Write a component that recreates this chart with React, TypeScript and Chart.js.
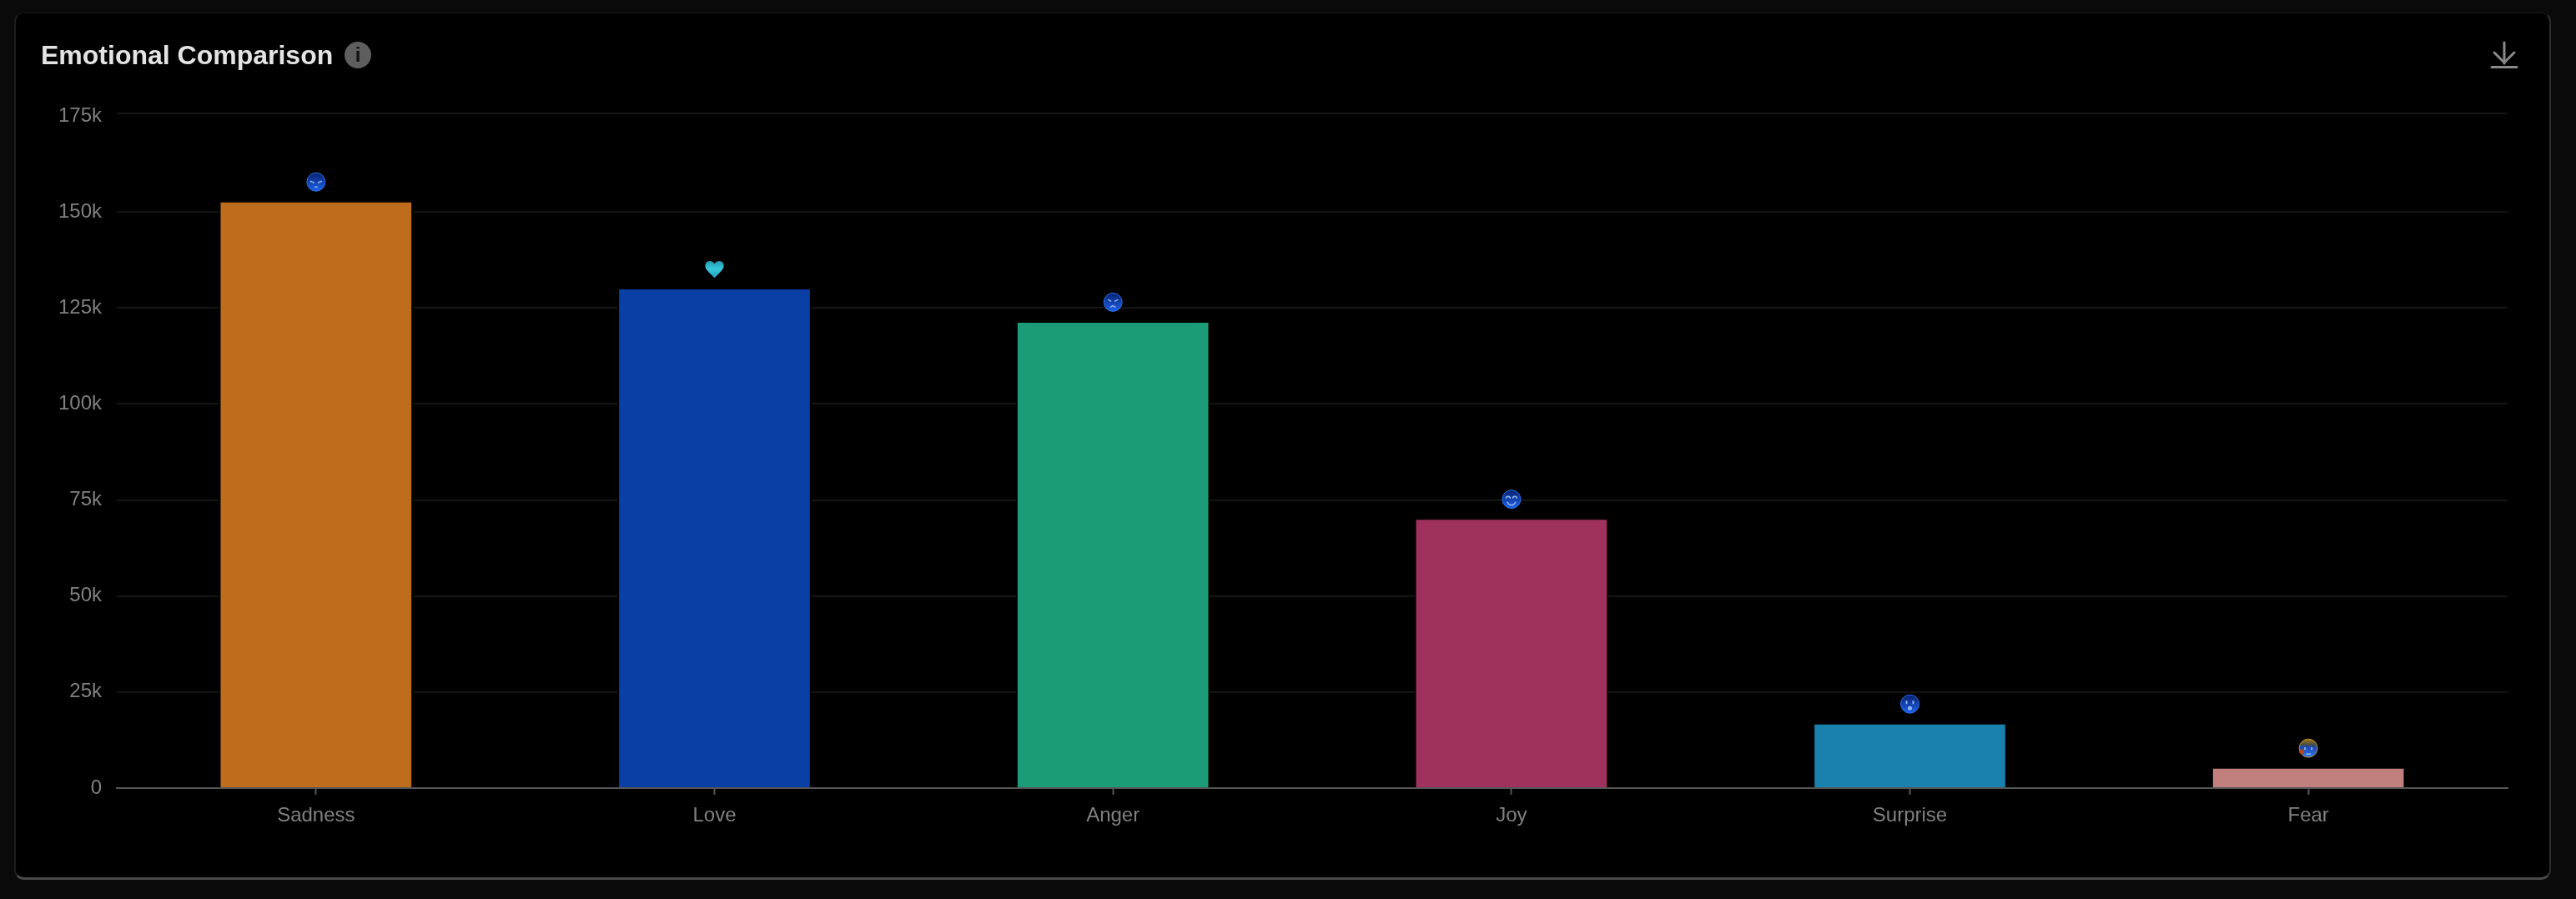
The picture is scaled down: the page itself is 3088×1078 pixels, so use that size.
import React, { useEffect, useRef } from "react";
import { Chart, registerables } from "chart.js";

Chart.register(...registerables);

const categories = ["Sadness", "Love", "Anger", "Joy", "Surprise", "Fear"];
const mentions = [152800, 130200, 121500, 70200, 16900, 5400];
const barColors = ["#BD6D1B", "#0A3FA5", "#1C9C76", "#9E325D", "#1A80AD", "#C17F7E"];
const emojiKinds = ["sad", "heart", "angry", "happy", "surprised", "fearful"];
const yTicks = [0, 25000, 50000, 75000, 100000, 125000, 150000, 175000];
// the top grid line in the reference sits a little above the 175k label
const yTop = 175640;

const FONT = "'Liberation Sans', Arial, sans-serif";

function drawFace(ctx: CanvasRenderingContext2D, kind: string, x: number, y: number) {
  ctx.save();
  ctx.translate(x, y);
  if (kind === "heart") {
    const g = ctx.createLinearGradient(0, -11, 0, 11);
    g.addColorStop(0, "#1d8fa8");
    g.addColorStop(0.5, "#37c9dc");
    g.addColorStop(1, "#1fa3bb");
    ctx.fillStyle = g;
    ctx.beginPath();
    ctx.moveTo(0, 11);
    ctx.bezierCurveTo(-7, 4, -12, 0, -11, -5);
    ctx.bezierCurveTo(-10, -10, -3, -11, 0, -6);
    ctx.bezierCurveTo(3, -11, 10, -10, 11, -5);
    ctx.bezierCurveTo(12, 0, 7, 4, 0, 11);
    ctx.fill();
    ctx.restore();
    return;
  }
  const g = ctx.createLinearGradient(0, -11, 0, 11);
  if (kind === "fearful") {
    g.addColorStop(0, "#a8791a");
    g.addColorStop(0.3, "#4a4f45");
    g.addColorStop(0.45, "#1b46b8");
    g.addColorStop(1, "#2f7bea");
  } else {
    g.addColorStop(0, "#07216f");
    g.addColorStop(1, "#1f63e8");
  }
  ctx.fillStyle = g;
  ctx.beginPath();
  ctx.arc(0, 0, 11, 0, Math.PI * 2);
  ctx.fill();
  ctx.strokeStyle = kind === "fearful" ? "#c08a20" : "#2a6fe8";
  ctx.lineWidth = 1;
  ctx.stroke();

  ctx.strokeStyle = "#8fb4f0";
  ctx.fillStyle = "#8fb4f0";
  ctx.lineWidth = 1.5;
  const line = (a: number, b: number, c: number, d: number) => {
    ctx.beginPath();
    ctx.moveTo(a, b);
    ctx.lineTo(c, d);
    ctx.stroke();
  };
  if (kind === "sad") {
    line(-7, -1, -2, 1);
    line(7, -1, 2, 1);
    line(-2, 6, 2, 6);
  } else if (kind === "angry") {
    line(-6, -3, -2, -1);
    line(6, -3, 2, -1);
    line(-3, 6, 0, 4);
    line(0, 4, 3, 6);
  } else if (kind === "happy") {
    ctx.beginPath();
    ctx.arc(-4, -1, 2.5, Math.PI, 0);
    ctx.stroke();
    ctx.beginPath();
    ctx.arc(4, -1, 2.5, Math.PI, 0);
    ctx.stroke();
    ctx.beginPath();
    ctx.arc(0, 2, 5, 0.2, Math.PI - 0.2);
    ctx.stroke();
  } else if (kind === "surprised") {
    ctx.fillRect(-5, -4, 2, 4);
    ctx.fillRect(3, -4, 2, 4);
    ctx.beginPath();
    ctx.arc(0, 5, 2.5, 0, Math.PI * 2);
    ctx.fill();
  } else if (kind === "fearful") {
    ctx.fillRect(-5, -1, 2, 3);
    ctx.fillRect(3, -1, 2, 3);
    line(-3, 7, 3, 7);
    ctx.fillStyle = "#b4441a";
    ctx.beginPath();
    ctx.arc(-8, 4, 3, 0, Math.PI * 2);
    ctx.fill();
  }
  ctx.restore();
}

// emoji sit just above each bar, positions come from the bar elements
const emojiPlugin = {
  id: "emojiPlugin",
  afterDatasetsDraw(chart: any) {
    const meta = chart.getDatasetMeta(0);
    meta.data.forEach((bar: any, i: number) => {
      drawFace(chart.ctx, emojiKinds[i], bar.x, bar.y - 23);
    });
  },
};

export default function App() {
  const chartRef = useRef<HTMLCanvasElement | null>(null);

  useEffect(() => {
    document.body.style.margin = "0";
    document.body.style.background = "#0a0a0a";
    const ctx = chartRef.current?.getContext("2d");
    if (!ctx) return;

    const chart = new Chart(ctx, {
      type: "bar",
      data: {
        labels: categories,
        datasets: [
          {
            label: "Emotional Comparison",
            data: mentions,
            backgroundColor: barColors,
            borderColor: "#000000",
            borderWidth: 2,
            barThickness: 232,
          },
        ],
      },
      options: {
        responsive: false,
        animation: false,
        devicePixelRatio: 1,
        layout: { padding: { top: 136, right: 82, bottom: 0, left: 0 } },
        plugins: {
          legend: { display: false },
          tooltip: { enabled: false },
        },
        scales: {
          x: {
            afterFit: (axis: any) => {
              axis.height = 133;
            },
            grid: {
              offset: false,
              drawOnChartArea: false,
              tickLength: 8,
              tickColor: "#555555",
              tickWidth: 2,
            },
            border: { color: "#555555", width: 2, z: 1 },
            ticks: {
              maxRotation: 0,
              padding: 11,
              color: "#808080",
              font: { family: FONT, size: 24 },
            },
          },
          y: {
            min: 0,
            max: yTop,
            afterBuildTicks: (axis: any) => {
              axis.ticks = [...yTicks, yTop].map((value) => ({ value }));
            },
            afterFit: (axis: any) => {
              axis.width = 140;
            },
            grid: {
              color: (c: any) => (c.tick && c.tick.value === 175000 ? "transparent" : "#151515"),
              lineWidth: 2,
              drawTicks: false,
            },
            border: { display: false },
            ticks: {
              padding: 18,
              color: "#808080",
              font: { family: FONT, size: 24 },
              callback: (value: any) => {
                if (value === yTop) return "";
                return value === 0 ? "0" : `${value / 1000}k`;
              },
            },
          },
        },
      },
      plugins: [emojiPlugin],
    } as any);

    return () => chart.destroy();
  }, []);

  return (
    <div style={{ position: "relative", width: 3088, height: 1078, overflow: "hidden", background: "#0a0a0a" }}>
      <div
        style={{
          position: "absolute",
          left: 17,
          top: 14,
          width: 3041,
          height: 1041,
          boxSizing: "border-box",
          background: "#000000",
          borderRadius: 12,
          borderTop: "2px solid #121212",
          borderLeft: "2px solid #1c1c1c",
          borderRight: "2px solid #2c2c2c",
          borderBottom: "3px solid #4a4a4a",
        }}
      />
      <canvas ref={chartRef} width={3088} height={1078} style={{ position: "absolute", left: 0, top: 0 }} />
      <div
        style={{
          position: "absolute",
          left: 49,
          top: 48,
          fontFamily: FONT,
          fontWeight: 700,
          fontSize: 32,
          lineHeight: "36px",
          color: "#e4e4e4",
          whiteSpace: "nowrap",
        }}
      >
        Emotional Comparison
      </div>
      <div
        style={{
          position: "absolute",
          left: 413,
          top: 50,
          width: 32,
          height: 32,
          borderRadius: "50%",
          background: "#5e5e5e",
          color: "#111111",
          fontFamily: FONT,
          fontWeight: 700,
          fontSize: 24,
          lineHeight: "32px",
          textAlign: "center",
        }}
      >
        i
      </div>
      <svg
        style={{ position: "absolute", left: 2980, top: 44 }}
        width={44}
        height={42}
        viewBox="0 0 44 42"
        fill="none"
        stroke="#8a8a8a"
        strokeWidth={3}
        strokeLinecap="round"
      >
        <path d="M22 7 L22 32" />
        <path d="M10 19 L22 31 L34 19" />
        <path d="M7 36.5 L37 36.5" />
      </svg>
    </div>
  );
}
